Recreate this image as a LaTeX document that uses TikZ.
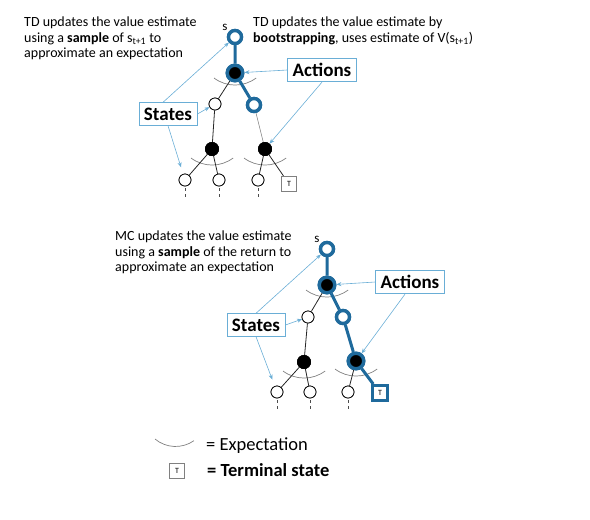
\documentclass[tikz,border=0pt]{standalone}
\usepackage{fontspec}
\setmainfont{Carlito}
\usetikzlibrary{arrows.meta,calc}
\definecolor{pathblue}{HTML}{1F6A9C}
\definecolor{noteblue}{HTML}{6AAED6}
\tikzset{
    state/.style =  {circle,
                    fill=white,
                    draw=black,
                    line width=0.7pt,
                    inner sep=0pt,
                    minimum size=12pt},
    action/.style = {circle,
                    fill=black,
                    draw=black,
                    inner sep=0pt,
                    minimum size=13.5pt},
    bstate/.style = {circle,
                    fill=white,
                    draw=pathblue,
                    line width=3.4pt,
                    inner sep=0pt,
                    minimum size=13pt},
    baction/.style ={circle,
                    fill=black,
                    draw=pathblue,
                    line width=3.4pt,
                    inner sep=0pt,
                    minimum size=15.5pt},
    term/.style =   {rectangle,
                    fill=white,
                    draw=gray,
                    line width=0.7pt,
                    inner sep=0pt,
                    minimum size=15pt,
                    font=\fontsize{8}{9}\selectfont},
    bterm/.style =  {term,
                    draw=pathblue,
                    line width=3pt},
    note/.style =   {rectangle,
                    fill=white,
                    draw=noteblue,
                    line width=0.8pt,
                    inner xsep=5pt,
                    inner ysep=5pt,
                    font=\fontsize{19}{22}\selectfont\bfseries},
    blurb/.style =  {anchor=north west,
                    align=left,
                    inner sep=0pt,
                    font=\fontsize{14}{15.5}\selectfont},
    legend/.style = {anchor=base west,
                    inner sep=0pt,
                    font=\fontsize{18.5}{20}\selectfont},
    slabel/.style = {inner sep=0pt,
                    font=\fontsize{13}{13}\selectfont},
    -,
    tedge/.style =  {draw=black!85, line width=0.8pt},
    bedge/.style =  {draw=pathblue, line width=3pt},
    point/.style =  {draw=noteblue, line width=0.6pt, -{Stealth[length=5pt,width=4pt]}},
    expect/.style = {draw=gray, line width=0.7pt},
    cont/.style =   {draw=black!70, line width=0.8pt, dash pattern=on 3pt off 3pt}}

\begin{document}
\begin{tikzpicture}[x=1pt,y=-1pt]
\useasboundingbox (0,0) rectangle (590,520);

% texts
\node[blurb] (tdsample) at (24,17)
    {TD updates the value estimate\\using a \textbf{sample} of s\textsubscript{t+1} to\\approximate an expectation};
\node[blurb] (tdboot) at (253,17)
    {TD updates the value estimate by\\\textbf{bootstrapping}, uses estimate of V(s\textsubscript{t+1})};
\node[blurb] (mcsample) at (115,231)
    {MC updates the value estimate\\using a \textbf{sample} of the return to\\approximate an expectation};

% top tree (TD)
\node[bstate]  (rootA) at (235,37)  {};
\node[slabel]  (sA)    at (225,27)  {s};
\node[baction] (actA)  at (235,73)  {};
\node[state]   (sLA)   at (215,104) {};
\node[bstate]  (sRA)   at (254,105) {};
\node[action]  (aLA)   at (212,149) {};
\node[action]  (aRA)   at (265,149) {};
\node[state]   (l1A)   at (185,180) {};
\node[state]   (l2A)   at (219,180) {};
\node[state]   (l3A)   at (258,180) {};
\node[term]    (tA)    at (289,184) {T};

% bottom tree (MC)
\node[bstate]  (rootB) at (327,249) {};
\node[slabel]  (sB)    at (317,239) {s};
\node[baction] (actB)  at (327,285) {};
\node[state]   (sLB)   at (308,317) {};
\node[bstate]  (sRB)   at (343,317) {};
\node[action]  (aLB)   at (304,362) {};
\node[baction] (aRB)   at (356,361) {};
\node[state]   (l1B)   at (277,392) {};
\node[state]   (l2B)   at (310,392) {};
\node[state]   (l3B)   at (348,392) {};
\node[bterm]   (tB)    at (380,393) {T};

% expectations
\foreach \n/\d in {actA/5,aLA/9,aRA/9,actB/5,aLB/9,aRB/8}
    \path[expect] ($(\n)+(-21,\d)$) arc[start angle=127, end angle=53, radius=35];

% edges
\path[bedge] (rootA) -- (actA) -- (sRA);
\path[tedge] (actA) -- (sLA) -- (aLA) -- (l1A);
\path[tedge] (aLA) -- (l2A);
\path[draw=gray, line width=0.6pt] (sRA) -- (aRA);
\path[tedge] (aRA) -- (l3A);
\path[tedge] (aRA) -- (tA);

\path[bedge] (rootB) -- (actB) -- (sRB) -- (aRB) -- (tB);
\path[tedge] (actB) -- (sLB) -- (aLB) -- (l1B);
\path[tedge] (aLB) -- (l2B);
\path[tedge] (aRB) -- (l3B);

% redraw nodes over edges
\foreach \n/\s in {rootA/bstate,actA/baction,sLA/state,sRA/bstate,aLA/action,aRA/action,
                   l1A/state,l2A/state,l3A/state,
                   rootB/bstate,actB/baction,sLB/state,sRB/bstate,aLB/action,aRB/baction,
                   l1B/state,l2B/state,l3B/state}
    \node[\s] at (\n) {};
\node[term]  at (tA) {T};
\node[bterm] at (tB) {T};

% continuations
\foreach \n in {l1A,l2A,l3A,l1B,l2B,l3B}
    \path[cont] ($(\n)+(0,8)$) -- ($(\n)+(0,20)$);

% callouts
\node[note] (statesA)  at (168,114) {States};
\node[note] (actionsA) at (322,70)  {Actions};
\node[note] (statesB)  at (256,325) {States};
\node[note] (actionsB) at (410,282) {Actions};

\path[point] ([xshift=-5pt]statesA.north) -- (rootA);
\path[point] (statesA.east) -- (sLA);
\path[point, shorten >=7pt] (statesA.south) -- (l1A);
\path[point] (actionsA.west) -- (actA);
\path[point] (actionsA.south) -- (aRA);

\path[point] (statesB.north) -- (rootB);
\path[point] (statesB.east) -- (sLB);
\path[point, shorten >=7pt] (statesB.south) -- (l1B);
\path[point] (actionsB.west) -- (actB);
\path[point] ([xshift=-5pt]actionsB.south) -- (aRB);

% legend
\coordinate (expL) at (155,439);
\path[expect] (expL) arc[start angle=130, end angle=55, radius=32];
\node[legend] (expT) at (206,450) {= Expectation};
\node[term] (termL) at (177,471) {T};
\node[legend, font=\fontsize{18.5}{20}\selectfont\bfseries] (termT) at (207,476) {= Terminal state};
\end{tikzpicture}
\end{document}
